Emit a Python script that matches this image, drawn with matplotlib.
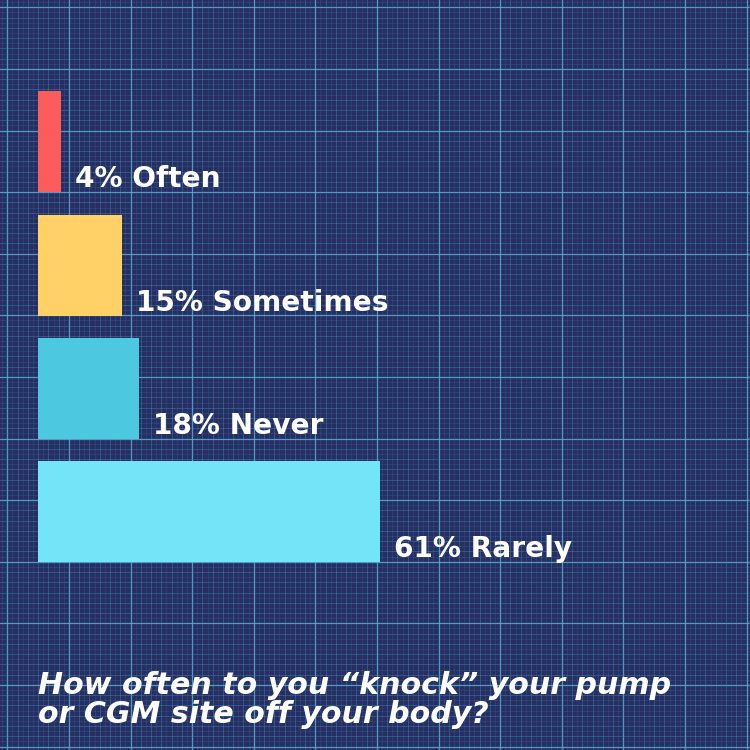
import matplotlib
matplotlib.use("Agg")
import matplotlib.pyplot as plt
import numpy as np

categories = ["Often", "Sometimes", "Never", "Rarely"]
values = [4, 15, 18, 61]
colors = ["#FD5C5C", "#FFD166", "#4CC8E0", "#74E5F9"]
title = "How often to you \u201cknock\u201d your pump\nor CGM site off your body?"

W = H = 750
fig = plt.figure(figsize=(7.5, 7.5), dpi=100)
bg = "#262F62"
fig.patch.set_facecolor(bg)

# background grid (pixel coordinates)
gax = fig.add_axes([0, 0, 1, 1])
gax.set_xlim(0, W)
gax.set_ylim(H, 0)
gax.set_facecolor(bg)
gax.axis("off")
start, step = 7.3, 61.6
minor = step / 12
k = np.arange(-2, 160)
for p in start + k * minor:
    idx = int(round((p - start) / minor))
    if idx % 12 == 0:
        c, lw, a = "#5CB6DA", 0.9, 0.8
    elif idx % 2 == 0:
        c, lw, a = "#4E8CC0", 0.6, 0.45
    else:
        c, lw, a = "#4A7BB2", 0.5, 0.3
    gax.axvline(p, color=c, lw=lw, alpha=a, zorder=1)
    gax.axhline(p, color=c, lw=lw, alpha=a, zorder=1)

# bars axes: 1% = 5.6 px, left edge at 38 px
left_px = 38.3
px_per_pct = 5.6
ax = fig.add_axes([left_px / W, 0, 100 * px_per_pct / W, 1])
ax.set_xlim(0, 100)
pitch = 123.4
c0 = 141.6
ax.set_ylim((H - c0) / pitch, -c0 / pitch)
ax.axis("off")
ax.patch.set_alpha(0)
ypos = np.arange(len(values))
bh = 101 / pitch
ax.barh(ypos, values, height=bh, color=colors, zorder=3)
for y, v, cat in zip(ypos, values, categories):
    ax.annotate(f"{v}% {cat}", xy=(v, y + bh / 2), xytext=(10, 3.5),
                textcoords="offset points", ha="left", va="baseline",
                color="white", fontsize=20.2, fontweight="bold",
                family="DejaVu Sans", zorder=4)

fig.text(38 / W, 1 - 723 / H, title, ha="left", va="baseline",
         color="white", fontsize=21.6, fontweight="bold", style="italic",
         family="DejaVu Sans", linespacing=0.98)
fig.savefig("out.png", dpi=100, facecolor=bg)
